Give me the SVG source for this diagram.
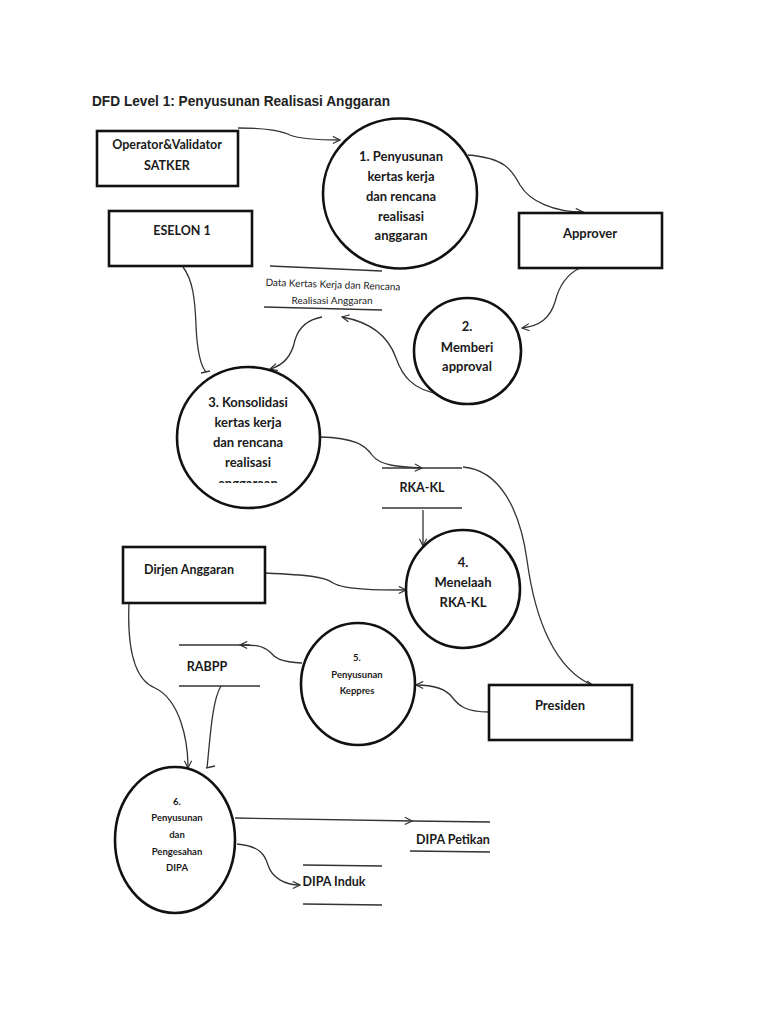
<svg xmlns="http://www.w3.org/2000/svg" width="768" height="1024" viewBox="0 0 768 1024">
<style>
.bg{fill:#ffffff}
.box{fill:#ffffff;stroke:#111;stroke-width:2.6}
.proc{fill:#ffffff;stroke:#111;stroke-width:2.6}
.store{stroke:#333;stroke-width:1.3;fill:none}
.flow{stroke:#333;stroke-width:1.3;fill:none}
.lbl{font-family:Lato,"Noto Sans",sans-serif;font-weight:bold;fill:#1a1a1a;text-anchor:middle}
.t13{font-size:13px}
.t12{font-size:12.5px}
.t9{font-size:9.5px}
.small{font-family:Lato,"Noto Sans",sans-serif;font-size:10px;fill:#222;text-anchor:middle}
.title{font-family:"Liberation Sans",Arial,sans-serif;font-weight:bold;font-size:15.5px;fill:#222}
</style>
<defs>
<marker id="arr" viewBox="0 0 10 10" refX="9" refY="5" markerWidth="9" markerHeight="9" markerUnits="userSpaceOnUse" orient="auto">
<path d="M1,1 L9,5 L1,9" fill="none" stroke="#333" stroke-width="1.3"/>
</marker>
<clipPath id="clip3"><rect x="150" y="360" width="200" height="123"/></clipPath>
</defs>
<rect class="bg" x="0" y="0" width="768" height="1024"/>
<text class="title" x="92" y="106" textLength="298" lengthAdjust="spacingAndGlyphs">DFD Level 1: Penyusunan Realisasi Anggaran</text>

<g id="connectors">
<path class="flow" marker-end="url(#arr)" d="M238,128 C265,128 280,130 290,135 C300,139 320,140 340,140"/>
<path class="flow" marker-end="url(#arr)" d="M468,155 C505,158 512,170 520,185 C530,202 555,212 583,212"/>
<path class="flow" marker-end="url(#arr)" d="M580,268 C565,275 558,290 555,302 C550,318 540,326 522,328"/>
<path class="flow" marker-end="url(#arr)" d="M440,394 C412,390 402,375 396,358 C388,335 370,322 342,317"/>
<path class="flow" marker-end="url(#arr)" d="M322,317 C305,320 298,330 295,340 C292,355 285,365 270,369"/>
<path class="flow" d="M183,267 C193,280 195,300 196,325 C197,350 200,365 206,372"/>
<path class="flow" d="M201,373 L210,371"/>
<path class="flow" marker-end="url(#arr)" d="M320,437 C355,438 365,445 372,455 C380,466 400,467 422,468"/>
<path class="flow" d="M463,467 C500,470 520,510 527,560 C535,620 555,670 594,686"/>
<path class="flow" d="M587,681 L594,686 L586,690"/>
<path class="flow" marker-end="url(#arr)" d="M423,510 L423,546"/>
<path class="flow" marker-end="url(#arr)" d="M265,573 C310,575 325,577 333,583 C345,590 380,590 406,590"/>
<path class="flow" marker-end="url(#arr)" d="M489,712 C465,712 458,705 452,697 C445,688 430,685 416,685"/>
<path class="flow" marker-end="url(#arr)" d="M302,663 C280,662 275,658 270,652 C262,645 255,645 240,645"/>
<path class="flow" marker-end="url(#arr)" d="M129,603 C127,650 135,680 155,688 C180,700 188,740 188,768"/>
<path class="flow" d="M221,686 C212,700 210,740 207,768"/>
<path class="flow" d="M206,768 L215,766"/>
<path class="flow" marker-end="url(#arr)" d="M235,818 L412,821"/>
<path class="flow" marker-end="url(#arr)" d="M237,844 C260,846 265,855 268,865 C272,878 285,885 300,885"/>
</g>

<g id="operator">
<rect class="box" x="97" y="131" width="141" height="55"/>
<text class="lbl t12" x="167" y="149">Operator&amp;Validator</text>
<text class="lbl t12" x="167" y="170">SATKER</text>
</g>

<g id="eselon">
<rect class="box" x="109" y="211" width="143" height="55"/>
<text class="lbl t12" x="182" y="235">ESELON 1</text>
</g>

<g id="p1">
<ellipse class="proc" cx="400" cy="193.5" rx="77" ry="75"/>
<text class="lbl t13" x="401" y="161">1. Penyusunan</text>
<text class="lbl t13" x="401" y="181">kertas kerja</text>
<text class="lbl t13" x="401" y="201">dan rencana</text>
<text class="lbl t13" x="401" y="221">realisasi</text>
<text class="lbl t13" x="401" y="240">anggaran</text>
</g>

<g id="approver">
<rect class="box" x="519" y="213" width="143" height="55"/>
<text class="lbl t13" x="590" y="238">Approver</text>
</g>

<g id="store-data">
<path class="store" d="M270,266 L382,271"/>
<text class="small" x="333" y="288" transform="rotate(2 333 284)">Data Kertas Kerja dan Rencana</text>
<text class="small" x="332" y="304">Realisasi Anggaran</text>
<path class="store" d="M264,307 L382,310"/>
</g>

<g id="p2">
<ellipse class="proc" cx="467.5" cy="351" rx="53.5" ry="53"/>
<text class="lbl t13" x="467" y="331">2.</text>
<text class="lbl t13" x="467" y="352">Memberi</text>
<text class="lbl t13" x="467" y="371">approval</text>
</g>

<g id="p3">
<ellipse class="proc" cx="248.5" cy="437.5" rx="71.5" ry="70.5"/>
<text class="lbl t13" x="248" y="407">3. Konsolidasi</text>
<text class="lbl t13" x="248" y="427">kertas kerja</text>
<text class="lbl t13" x="248" y="447">dan rencana</text>
<text class="lbl t13" x="248" y="467">realisasi</text>
<text class="lbl t13" x="248" y="488" clip-path="url(#clip3)">anggaraan</text>
</g>

<g id="store-rkakl">
<path class="store" d="M382,468 L462,468"/>
<text class="lbl t12" x="422" y="492">RKA-KL</text>
<path class="store" d="M382,508 L462,508"/>
</g>

<g id="p4">
<ellipse class="proc" cx="463" cy="589" rx="57" ry="59"/>
<text class="lbl t13" x="463" y="567">4.</text>
<text class="lbl t13" x="463" y="587">Menelaah</text>
<text class="lbl t13" x="463" y="607">RKA-KL</text>
</g>

<g id="dirjen">
<rect class="box" x="123" y="547" width="142" height="56"/>
<text class="lbl t12" x="189" y="574">Dirjen Anggaran</text>
</g>

<g id="store-rabpp">
<path class="store" d="M179,645 L250,645"/>
<text class="lbl t12" x="207" y="671">RABPP</text>
<path class="store" d="M179,686 L260,686"/>
</g>

<g id="p5">
<ellipse class="proc" cx="358" cy="684" rx="57" ry="61"/>
<text class="lbl t9" x="357" y="661">5.</text>
<text class="lbl t9" x="357" y="678">Penyusunan</text>
<text class="lbl t9" x="357" y="694">Keppres</text>
</g>

<g id="presiden">
<rect class="box" x="489" y="685" width="143" height="55"/>
<text class="lbl t13" x="560" y="710">Presiden</text>
</g>

<g id="p6">
<ellipse class="proc" cx="175" cy="840" rx="60" ry="73"/>
<text class="lbl t9" x="177" y="805">6.</text>
<text class="lbl t9" x="177" y="821">Penyusunan</text>
<text class="lbl t9" x="177" y="838">dan</text>
<text class="lbl t9" x="177" y="855">Pengesahan</text>
<text class="lbl t9" x="177" y="871">DIPA</text>
</g>

<g id="store-dipa-petikan">
<path class="store" d="M412,821 L490,822"/>
<text class="lbl t12" x="453" y="844">DIPA Petikan</text>
<path class="store" d="M410,851 L490,852"/>
</g>

<g id="store-dipa-induk">
<path class="store" d="M303,865 L382,866"/>
<text class="lbl t12" x="334" y="886">DIPA Induk</text>
<path class="store" d="M303,904 L382,905"/>
</g>
</svg>
